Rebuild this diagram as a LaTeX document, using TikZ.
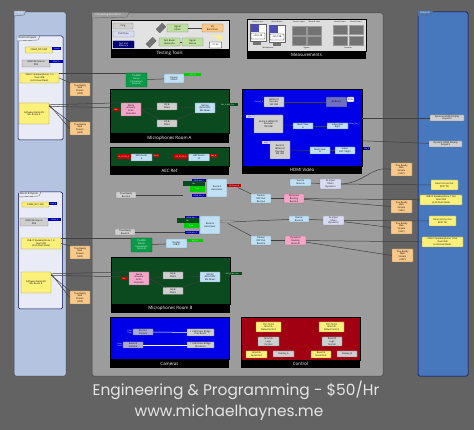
\documentclass[tikz,border=0pt]{standalone}
\usepackage{fontspec}
\setmainfont{Open Sans}
\newfontfamily\titlefont{Poppins}
\usepackage{tikz}
\usetikzlibrary{positioning,calc}

\definecolor{bgdark}{HTML}{636363}
\definecolor{inpanel}{HTML}{B3C3E0}
\definecolor{midpanel}{HTML}{9C9C9C}
\definecolor{outpanel}{HTML}{4778BE}
\definecolor{roomfill}{HTML}{E9ECF6}
\definecolor{micgreen}{HTML}{0B4A1E}
\definecolor{hdmiblue}{HTML}{0000E8}
\definecolor{ctrlred}{HTML}{A00012}
\definecolor{yellowfill}{HTML}{FBF07A}
\definecolor{orangefill}{HTML}{F8C98A}
\definecolor{grayfill}{HTML}{CFCFCF}
\definecolor{lightblue}{HTML}{BFE0F5}
\definecolor{lavender}{HTML}{D8DCF2}
\definecolor{pinkfill}{HTML}{F4A6C8}
\definecolor{sgreen}{HTML}{BFE0A0}
\definecolor{convgreen}{HTML}{0A9A48}

\begin{document}
\begin{tikzpicture}[
    x=1pt, y=-1pt,
    sz/.style 2 args={minimum width=#1pt, minimum height=#2pt},
    tiny/.style={font=\fontsize{2.3}{2.7}\selectfont},
    box/.style={rectangle, draw=#1!60!black, line width=0.4pt, rounded corners=0.4pt, inner sep=0pt, align=center, tiny},
    yellowbox/.style={box=yellowfill, fill=yellowfill},
    orangebox/.style={box=orangefill, fill=orangefill},
    graybox/.style={box=grayfill, fill=grayfill},
    bluebox/.style={box=lightblue, fill=lightblue},
    lavbox/.style={box=lavender, fill=lavender},
    pinkbox/.style={box=pinkfill, fill=pinkfill},
    greenbox/.style={box=sgreen, fill=sgreen},
    convbox/.style={box=convgreen, fill=convgreen, text=white},
    tagbox/.style={rectangle, inner sep=0pt, text=white, font=\fontsize{1.8}{2}\selectfont, sz={#1}{3}},
    navytag/.style={tagbox=#1, fill=blue!70!black},
    redtag/.style={tagbox=#1, fill=red!75!black},
    greentag/.style={tagbox=#1, fill=green!80!black},
    darktag/.style={tagbox=#1, fill=micgreen},
    panel/.style={rectangle, rounded corners=1.5pt, inner sep=0pt, draw=black!75, line width=0.5pt},
    footer/.style={rectangle, fill=black, text=white, inner sep=0pt, font=\fontsize{4.4}{5.4}\selectfont},
    tabhead/.style={fill=#1, draw=black!60, line width=0.4pt},
    tablabel/.style={text=white, inner sep=0pt, font=\fontsize{2.6}{3}\selectfont},
    wire/.style={draw=black!75, line width=0.5pt},
    whitewire/.style={draw=white, line width=0.5pt},
    shot/.style={rectangle, fill=black!55, draw=black!40, line width=0.2pt, sz={14}{9}},
    note/.style={inner sep=0pt, font=\fontsize{1.8}{2}\selectfont},
    bigtext/.style={text=white!90!black, inner sep=0pt, font=\titlefont\fontsize{15.4}{18}\selectfont}
]

% Background
\fill[bgdark] (0,0) rectangle (474,430);
\useasboundingbox (0,0) rectangle (474,430);

% Main panels
\node[panel, fill=inpanel, sz={52}{364}] (inputs) at (40,194) {};
\node[panel, fill=midpanel, sz={291}{363}] (processing) at (237.5,194.5) {};
\node[panel, fill=outpanel, sz={50}{364}, draw=blue!30!black] (outputs) at (443,194) {};
\draw[tabhead=inpanel] (14,16) -- (14,11) -- (26,11) -- (24,15) -- cycle;
\node[tablabel] (inputsTab) at (19.5,13) {Inputs};
\draw[tabhead=midpanel] (92,18) -- (92,12.5) -- (129,12.5) -- (127,17) -- cycle;
\node[tablabel] (processingTab) at (108,14.7) {Processing \& Control};
\draw[tabhead=outpanel] (418,16) -- (418,11) -- (433,11) -- (431,15) -- cycle;
\node[tablabel] (outputsTab) at (425,13) {Outputs};

% Room inputs
\node[panel, fill=roomfill, sz={45}{104}, draw=blue!30!black] (roomA) at (40.5,88) {};
\draw[tabhead=roomfill] (17,41) -- (17,36) -- (40,36) -- (38,40) -- cycle;
\node[tablabel, text=black] (roomATab) at (27.5,38) {Room A Inputs};
\node[panel, fill=roomfill, sz={44}{117}, draw=blue!30!black] (roomB) at (40.5,250.5) {};
\draw[tabhead=roomfill] (19,197) -- (19,192) -- (41,192) -- (39,196) -- cycle;
\node[tablabel, text=black] (roomBTab) at (29,194) {Room B Inputs};

\node[yellowbox, sz={27}{6}] (camA) at (39,50) {CAM4\_NC-1200};
\node[navytag={9}, right=-0.5pt of camA.north east, anchor=north west] (camAtag) {Cam A};
\node[graybox, sz={28}{7}] (pcbA) at (36,63.5) {HDMI AV Source\\PCB};
\node[navytag={14}, anchor=north west] (pcbAtag) at (49,60) {HDMI\_A};
\node[yellowbox, sz={39}{10}] (usbA) at (39.5,78) {USB-IC Speakerphone 1 in\\Dual USB\\(6.55 Dual Stack)};
\node[yellowbox, sz={30}{21}] (softA) at (34,113.5) {Software Dante RX\\Mic Room A};
\node[orangebox, sz={20}{13}] (trueA1) at (80,89.5) {True Ready\\Web\\Stream\\(UAP)};
\node[orangebox, sz={20}{13}] (trueA2) at (80,128.5) {True Ready\\Web\\Stream\\(UAP)};

\node[yellowbox, sz={27}{5}] (camB) at (35.5,204.5) {CAM4\_NC-1200};
\node[navytag={8}, anchor=north west] (camBtag) at (49,202) {Cam B};
\node[graybox, sz={28}{8}] (pcbB) at (34,222) {HDMI AV Source\\PCB};
\node[navytag={13}, anchor=north west] (pcbBtag) at (48,218) {HDMI\_B};
\node[yellowbox, sz={40}{11}] (usbB) at (41,243.5) {USB-IC Speakerphone 1 in\\Dual USB\\(6.55 Dual Stack)};
\node[yellowbox, sz={30}{21}] (softB) at (36,282.5) {Software Dante RX\\Mic Room B};
\node[orangebox, sz={20}{13}] (trueB1) at (80,252.5) {True Ready\\Web\\Stream\\(UAP)};
\node[orangebox, sz={20}{13}] (trueB2) at (80,297.5) {True Ready\\Web\\Stream\\(UAP)};

% Testing tools
\node[rectangle, fill=grayfill!60!white, draw=black, line width=0.4pt, inner sep=0pt, sz={118}{37}] (testPanel) at (169.7,38.7) {};
\node[footer, sz={118}{8}] (testFoot) at (169.7,53.5) {Testing Tools};
\node[graybox, sz={20}{6}] (ping) at (123,26) {Ping};
\node[lavbox, sz={21}{6}] (tone) at (123.5,34) {Test Tone};
\node[box=blue, fill=blue!45!black, text=white, sz={21}{7}] (measure) at (123.5,44.5) {Test and\\Measure};
\node[greenbox, sz={21}{8}] (sigA) at (177.5,28) {Signal\\Chain};
\node[orangebox, sz={21}{8}] (bandA) at (212.5,28) {EQ\\Band Pass};
\node[greenbox, sz={21}{8}] (sigB) at (169.5,42) {Test Room\\Generator};
\node[greenbox, sz={21}{8}] (sigC) at (192.5,42) {Signal\\Source};
\node[rectangle, fill=black!55, draw=white, line width=0.4pt, rotate=45, sz={10}{2.5}] (micA) at (161,28) {};
\node[rectangle, fill=black!55, draw=white, line width=0.4pt, rotate=45, sz={11}{2.5}] (micB) at (151,42.5) {};
\node[box=black, fill=white, sz={12}{6}, tiny] (meter) at (215.5,45) {0.130};
\fill[yellowfill] (209,35.5) -- (222,35.5) -- (222,41.5) -- (216,37) -- cycle;
\draw[wire] (sigA) -- (bandA);
\draw[wire] (sigB) -- (sigC);

% Measurements
\node[rectangle, fill=grayfill!70!white, draw=black, line width=0.4pt, inner sep=0pt, sz={119}{32}] (measPanel) at (306.5,35) {};
\node[footer, sz={119}{8}] (measFoot) at (306.5,55) {Measurements};
\node[rectangle, fill=white, draw=black!60, line width=0.2pt, sz={16}{17}, inner sep=0pt] (cardA) at (258,32.5) {};
\node[rectangle, fill=blue!40!gray, inner sep=0pt, sz={8}{8}] (cardAblue) at (254.5,28.5) {};
\node[box=black, fill=white, sz={14}{6}] (cardAval) at (258,36) {-60.0 dB};
\node[rectangle, fill=black!55, sz={8}{3}, inner sep=0pt] (cardAbar) at (257,43.5) {};
\node[rectangle, fill=white, draw=black!60, line width=0.2pt, sz={16}{17}, inner sep=0pt] (cardB) at (277,33.5) {};
\node[rectangle, fill=blue!40!gray, inner sep=0pt, sz={8}{8}] (cardBblue) at (273.5,29.5) {};
\node[box=black, fill=white, sz={14}{6}] (cardBval) at (277,37) {-60.0 dB};
\node[rectangle, fill=black!55, sz={8}{3}, inner sep=0pt] (cardBbar) at (277,44.5) {};
\node[shot] (shotA) at (299,30.5) {};
\node[shot] (shotB) at (314.5,30.5) {};
\node[shot] (shotC) at (299,41) {};
\node[shot] (shotD) at (314.5,41) {};
\node[shot] (shotE) at (340,29.5) {};
\node[shot] (shotF) at (356,29.5) {};
\node[shot] (shotG) at (340,40.5) {};
\node[shot] (shotH) at (356,40.5) {};
\node[note] (capA) at (258,22.3) {Room A mics};
\node[note] (capB) at (277,22.3) {Room B mics};
\node[note] (capC) at (299,22.3) {Room A cams};
\node[note] (capD) at (314.5,22.3) {Room B cams};
\node[note] (capE) at (340,22.3) {Room A cams};
\node[note] (capF) at (356,22.3) {Room B cams};
\node[note] (capG) at (268,47.7) {Microphones};
\node[note] (capH) at (306.5,47.7) {Signals};
\node[note] (capI) at (348,47.7) {Cameras};

% Microphones room A
\node[rectangle, fill=micgreen, draw=black, line width=0.4pt, inner sep=0pt, sz={119}{44}] (micPanelA) at (169.5,111) {};
\node[footer, sz={119}{10}] (micFootA) at (169.5,138) {Microphones Room A};
\node[pinkbox, sz={20}{13}] (echoA) at (131,109.5) {Dante\\Acoustic\\Echo\\Canceller};
\node[redtag={7}, left=1pt of echoA] (echoAtag) {Mic};
\node[graybox, sz={20}{7}] (eqA1) at (167,106.5) {EQ \&\\Filters};
\node[graybox, sz={20}{7}] (eqA2) at (167,123.5) {EQ \&\\Filters};
\node[bluebox, sz={20}{10}] (gateA) at (205,108) {Gating\\Automatic\\Mic Mixer};
\node[darktag={21}, anchor=north west] (gateAtag) at (217,103) {Mic\_A\_Mix\_Out};
\draw[wire] (echoA.east) -- (eqA1);
\draw[wire] (echoA.east) -- (eqA2);
\draw[wire] (eqA1) -- (gateA);
\draw[wire] (eqA2) -- (gateA);

% AEC reference
\node[rectangle, fill=micgreen, draw=black, line width=0.4pt, inner sep=0pt, sz={119}{19}] (aecPanel) at (169.5,156.5) {};
\node[footer, sz={119}{9}] (aecFoot) at (169.5,170.5) {AEC Ref};
\node[bluebox, sz={21}{7}] (aecA) at (141.5,157.5) {AEC Room\\A};
\node[redtag={14}, left=0pt of aecA.north west, anchor=north east, minimum height=5pt] (aecAin) {HD\_ROOM\_A};
\node[redtag={6}, anchor=north west] (aecAout) at (153,154) {Ref\_A};
\node[bluebox, sz={21}{7}] (aecB) at (199,157.5) {AEC Room\\B};
\node[redtag={14}, left=0pt of aecB.north west, anchor=north east, minimum height=5pt] (aecBin) {HD\_ROOM\_B};
\node[redtag={7}, anchor=north west] (aecBout) at (210,154) {Ref\_B};

% HDMI video
\node[rectangle, fill=hdmiblue, draw=black, line width=0.4pt, inner sep=0pt, sz={120}{77}] (hdmiPanel) at (302,127.5) {};
\node[footer, sz={120}{8}] (hdmiFoot) at (302,170) {HDMI Video};
\node[graybox, sz={20}{10}] (decTop) at (274,102) {HDMI I/O\\Decoder\\SW USB};
\node[note, text=white, anchor=east] (decTopIn) at (263.5,102) {Source1\_A};
\node[box=blue, fill=blue!40!gray!80!white, sz={21}{10}] (avRoom) at (336.5,102) {AV Room};
\node[box=black, fill=white, sz={7}{5}] (avTag) at (350.5,99.5) {CTRL};
\node[graybox, sz={29}{18}] (decA) at (268.5,124) {Room A HDMI I/O\\Decoder\\SW USB};
\node[navytag={8}, fill=blue!20!white, text=black, anchor=north east] (decAtag) at (254,115) {In\_A};
\node[bluebox, sz={20}{6}] (mvA) at (303,126) {Multi View\\A};
\node[bluebox, sz={21}{6}] (wallA) at (337.5,126) {Video Wall\\Right};
\node[note, text=white, anchor=west] (wallAtag) at (349,124) {Video\_Out\_1};
\node[graybox, sz={20}{18}] (decB) at (280,150) {Room B\\HDMI I/O\\Decoder\\SW USB};
\node[navytag={8}, fill=blue!20!white, text=black, anchor=north east] (decBtag) at (270,141) {In\_B};
\node[bluebox, sz={20}{7}] (mvB) at (320,150.5) {Multi View\\B};
\node[bluebox, sz={20}{7}] (wallB) at (345,150.5) {Video\\Left / Right};
\node[navytag={7}, fill=blue!60!black, anchor=north west] (wallBtag) at (363,147) {Out\_B};
\draw[wire] (decTop) -- (avRoom);
\draw[wire] (decA) -- (mvA);
\draw[wire] (mvA) -- (wallA);
\draw[wire] (decB) -- (mvB);
\draw[wire] (mvB) -- (wallB);

% Outputs
\node[graybox, sz={34}{6}] (dispA) at (447,118) {Dynamic HDMI Display\\Dispatch};
\node[graybox, sz={33}{6}] (dispB) at (445.5,144) {Dynamic HDMI Display\\Dispatch};
\node[yellowbox, sz={27}{10}] (lineA) at (444.5,185) {Room A Line Out\\(DSP TX)};
\node[yellowbox, sz={42}{10}] (spkA) at (441,200) {USB-IC Speakerphone 1 Out\\Dual USB\\(6.55 Dual Stack)};
\node[yellowbox, sz={27}{10}] (lineB) at (442.5,221) {Room B Line Out\\(DSP TX)};
\node[yellowbox, sz={41}{10}] (spkB) at (442.5,242) {USB-IC Speakerphone 1 Out\\Dual USB\\(6.55 Dual Stack)};
\node[orangebox, sz={21}{13}] (trueC1) at (401.5,169.5) {True Ready\\Web\\Stream\\(UAP)};
\node[orangebox, sz={21}{13}] (trueC2) at (401.5,206.5) {True Ready\\Web\\Stream\\(UAP)};
\node[orangebox, sz={21}{13}] (trueC3) at (401.5,227.5) {True Ready\\Web\\Stream\\(UAP)};
\node[orangebox, sz={21}{13}] (trueC4) at (402.5,255.5) {True Ready\\Web\\Stream\\(UAP)};
\draw[wire] (hdmiPanel.east |- dispA) -- (dispA);
\draw[wire] (hdmiPanel.east |- decB.north) -- (dispB);

% Stereo conversion and mixers
\node[convbox, sz={21}{14}] (stereoA) at (136.5,80) {CS-4000\\Stereo\\Conversion\\Room A};
\node[bluebox, sz={20}{9}] (duckA) at (174,78.5) {Ducker\\USB-IC};
\node[greentag={17}, anchor=north west] (duckAtag) at (184,73) {AEC\_Tx};
\node[convbox, sz={21}{14}] (stereoB) at (141.5,245) {CS-4000\\Stereo\\Conversion\\Room B};
\node[bluebox, sz={21}{9}] (duckB) at (176.5,243.5) {Ducker\\USB-IC};
\node[greentag={16}, anchor=north west] (duckBtag) at (187,239) {AEC\_Tx};

\node[bluebox, sz={20}{18}] (mixA) at (217,188) {Room A\\Automixer};
\node[navytag={14}, anchor=north east] (mixAtop) at (206,179) {HDMI\_Mic\_1};
\node[darktag={22}, minimum height=5pt, anchor=north east] (mixAdark) at (205,181) {Mic};
\node[greentag={15}, minimum height=6pt, anchor=north east] (mixAgreen) at (205,186) {Cam};
\node[navytag={14}, anchor=north east] (mixAbot) at (206,194) {HDMI\_Mic\_2};
\node[redtag={14}, anchor=north west] (mixAout) at (227,184) {HD\_Room\_A};
\node[graybox, sz={20}{6}] (liveA) at (126,195) {True Ready\\Room A};

\node[bluebox, sz={20}{18}] (mixB) at (210,225) {Room B\\Automixer};
\node[navytag={14}, anchor=north east] (mixBtop) at (199,216) {HDMI\_Mic\_1};
\node[darktag={22}, minimum height=5pt, anchor=north east] (mixBdark) at (199,218) {Mic};
\node[greentag={15}, minimum height=5pt, anchor=north east] (mixBgreen) at (199,223) {Cam};
\node[navytag={14}, anchor=north east] (mixBbot) at (199,231) {HDMI\_Mic\_2};
\node[tagbox={15}, fill=black!45, anchor=north west] (mixBout) at (220,220) {HD\_Room\_B};
\node[graybox, sz={20}{6}] (liveB) at (125,232) {True Ready\\Room B};
\draw[wire] (liveA) -- (mixAdark.west |- liveA);
\draw[wire] (liveB) -- (mixBbot.west |- liveB);

\node[bluebox, sz={21}{7}] (srcA) at (300.5,182.5) {Source\\Room A};
\node[lavbox, sz={21}{10}] (filtA) at (330.5,184) {AI-Input\\Filters\\Dynamics};
\node[bluebox, sz={20}{9}] (dspA) at (261,198.5) {Ducker\\DSP Out\\Room A};
\node[pinkbox, sz={20}{9}] (trimA) at (294,198.5) {Dynamics\\Routing\\Room A};
\node[bluebox, sz={20}{6}] (srcB) at (299,219) {Source\\Room B};
\node[lavbox, sz={21}{9}] (filtB) at (333.5,220.5) {AI-Input\\Filters\\Dynamics};
\node[bluebox, sz={20}{9}] (dspB) at (261,240.5) {Ducker\\DSP Out\\Room B};
\node[pinkbox, sz={21}{9}] (trimB) at (295.5,240.5) {Dynamics\\Routing\\Room B};

% Microphones room B
\node[rectangle, fill=micgreen, draw=black, line width=0.4pt, inner sep=0pt, sz={119}{47}] (micPanelB) at (170.5,280.5) {};
\node[footer, sz={119}{9}] (micFootB) at (170.5,308.5) {Microphones Room B};
\node[pinkbox, sz={20}{13}] (echoB) at (139,278.5) {Dante\\Acoustic\\Echo\\Canceller};
\node[redtag={7}, left=1pt of echoB] (echoBtag) {Mic};
\node[graybox, sz={20}{7}] (eqB1) at (173,275.5) {EQ \&\\Filters};
\node[graybox, sz={20}{7}] (eqB2) at (173,291) {EQ \&\\Filters};
\node[bluebox, sz={20}{10}] (gateB) at (210,277) {Gating\\Automatic\\Mic Mixer};
\node[darktag={20}, anchor=north west] (gateBtag) at (222,272) {Mic\_B\_Mix\_Out};
\draw[wire] (echoB.east) -- (eqB1);
\draw[wire] (echoB.east) -- (eqB2);
\draw[wire] (eqB1) -- (gateB);
\draw[wire] (eqB2) -- (gateB);

% Cameras
\node[rectangle, fill=hdmiblue, draw=black, line width=0.4pt, inner sep=0pt, sz={119}{42}] (camPanel) at (169.5,338) {};
\node[footer, sz={119}{9}] (camFoot) at (169.5,363.5) {Cameras};
\node[lavbox, fill=blue!25!white!65!gray, sz={20}{6}] (camIn1) at (143,332) {Room A\\Camera};
\node[lavbox, fill=blue!25!white!65!gray, sz={20}{6}] (camIn2) at (133,345) {Room B\\Camera};
\node[graybox, sz={27}{7}] (usbCam1) at (200.5,332.5) {1 USB Video Bridge\\Pres Room};
\node[graybox, sz={27}{6}] (usbCam2) at (200.5,345) {1 USB Video Bridge\\Mic Room};
\node[note, text=white, align=center, anchor=east] (camNote1) at (132.5,332) {Cam1\\Cam2};
\node[note, text=white, align=center, anchor=east] (camNote2) at (122.5,345) {Cam1\\Cam2};
\draw[whitewire] (camIn1) -- (usbCam1);
\draw[whitewire] (camIn2) -- (usbCam2);

% Control
\node[rectangle, fill=ctrlred, draw=black, line width=0.4pt, inner sep=0pt, sz={119}{43}] (ctrlPanel) at (300.5,338.5) {};
\node[footer, sz={119}{8}] (ctrlFoot) at (300.5,364) {Control};
\node[yellowbox, sz={25}{10}] (ctrlA) at (268.5,327) {TSC-70-03\\Room A\\Status/Control};
\node[yellowbox, sz={25}{10}] (ctrlB) at (331.5,327) {TSC-70-03\\Room B\\Status/Control};
\node[graybox, sz={21}{9}] (logicA) at (268.5,341.5) {Room A\\Logic\\Control};
\node[graybox, sz={20}{9}] (logicB) at (332,341.5) {Room B\\Logic\\Control};
\node[yellowbox, sz={21}{7}] (serA) at (256.5,354.5) {Room A\\Serial Port};
\node[graybox, sz={21}{6}] (dispCtlA) at (283.5,354) {Display\_A};
\node[yellowbox, sz={20}{7}] (serB) at (321,354.5) {Room B\\Serial Port};
\node[graybox, sz={20}{6}] (dispCtlB) at (347,354) {Display\_B};

% Paths across panels
\draw[wire] (usbA.north east) -- (stereoA.west |- usbA.north east);
\draw[wire] (usbA.east) -- (trueA1.north west);
\draw[wire] ([yshift=-2pt]softA.north east) -- (echoA.west |- softA.north east);
\draw[wire] ([yshift=-3.5pt]softA.north east) -- (echoAtag.north west);
\draw[wire] ([yshift=-2pt]softA.north east) -- (trueA2.west);
\draw[wire] ([yshift=-3.5pt]softA.north east) -- (trueA2.north west);
\draw[wire] (stereoA) -- (duckA);
\draw[wire] (usbB.north east) -- (stereoB.west |- usbB.north east);
\draw[wire] (usbB.east) -- (trueB1.north west);
\draw[wire] ([yshift=-2pt]softB.north east) -- (echoB.west |- softB.north east);
\draw[wire] ([yshift=-3.5pt]softB.north east) -- (echoBtag.north west);
\draw[wire] ([yshift=-2pt]softB.north east) -- (trueB2.west);
\draw[wire] ([yshift=-3.5pt]softB.north east) -- (trueB2.north west);
\draw[wire] (stereoB) -- (duckB);
\draw[wire] (filtA.east) .. controls (365,183) and (372,165) .. (trueC1.west);
\draw[wire] (filtA) -- (lineA);
\draw[wire] (srcA) -- (filtA);
\draw[wire] (mixAout) -- (dspA.north west);
\draw[wire] (dspA) -- (trimA);
\draw[wire] (trimA) -- (spkA);
\draw[wire] (trimA) -- (trueC2.west);
\draw[wire] (mixBout.east) -- (srcB);
\draw[wire] (srcB) -- (filtB);
\draw[wire] (filtB) -- (lineB);
\draw[wire] (filtB) -- (trueC3.west);
\draw[wire] (mixBout.south) -- (dspB.north west);
\draw[wire] (dspB) -- (trimB);
\draw[wire] (trimB) -- (spkB);
\draw[wire] (trimB) -- (trueC4.west);

% Title lines
\node[bigtext] (titleA) at (236,390) {Engineering \& Programming - \$50/Hr};
\node[bigtext] (titleB) at (229,413) {www.michaelhaynes.me};

\end{tikzpicture}
\end{document}
